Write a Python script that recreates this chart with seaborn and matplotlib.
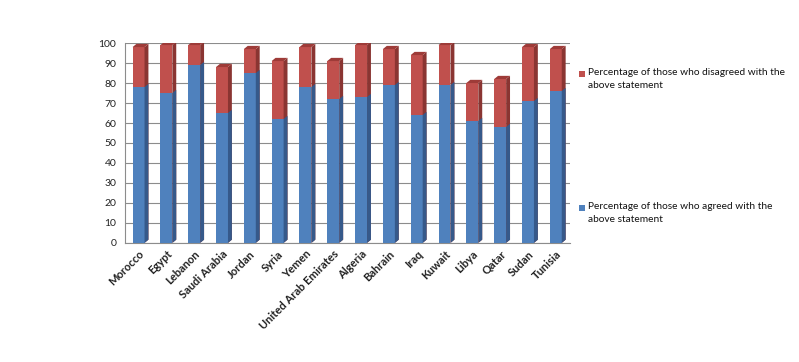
import numpy as np
import pandas as pd
import matplotlib
matplotlib.use("Agg")
import matplotlib.pyplot as plt
from matplotlib.patches import Polygon, Rectangle
import seaborn as sns

# values
countries = ["Morocco", "Egypt", "Lebanon", "Saudi Arabia", "Jordan", "Syria", "Yemen",
             "United Arab Emirates", "Algeria", "Bahrain", "Iraq", "Kuwait", "Libya",
             "Qatar", "Sudan", "Tunisia"]
agreed = [78, 75, 89, 65, 85, 62, 78, 72, 73, 79, 64, 79, 61, 58, 71, 76]
disagreed = [20, 24, 10, 23, 12, 29, 20, 19, 26, 18, 30, 20, 19, 24, 27, 21]

lbl_dis = "Percentage of those who disagreed with the\nabove statement"
lbl_agr = "Percentage of those who agreed with the\nabove statement"

df = pd.DataFrame({"country": countries, "agreed": agreed, "disagreed": disagreed})
df["total"] = df["agreed"] + df["disagreed"]

sns.set_style("white")
plt.rcParams["font.family"] = ["Lato", "DejaVu Sans"]

blue, blue_side = "#4F81BD", "#36598A"
red, red_side = "#C0504D", "#8A3532"

fig = plt.figure(figsize=(7.99, 3.62), dpi=100)
ax = fig.add_axes([0.156, 0.329, 0.557, 0.552])

# stacked bars: total in red, agreed in blue over it
sns.barplot(data=df, x="country", y="total", color=red, width=0.43,
            saturation=1, linewidth=0, ax=ax, zorder=3)
red_bars = list(ax.patches)
sns.barplot(data=df, x="country", y="agreed", color=blue, width=0.43,
            saturation=1, linewidth=0, ax=ax, zorder=4)
blue_bars = [p for p in ax.patches if p not in red_bars]

# fake 3d side and top faces, built from the bar geometry
dx, dy = 0.14, 1.6
for bars, side, z in [(red_bars, red_side, 3), (blue_bars, blue_side, 4)]:
    for p in bars:
        x0, w, h = p.get_x(), p.get_width(), p.get_height()
        ax.add_patch(Polygon([(x0 + w, 0), (x0 + w + dx, dy), (x0 + w + dx, h + dy), (x0 + w, h)],
                             closed=True, facecolor=side, edgecolor="none", zorder=z))
        if bars is red_bars:
            ax.add_patch(Polygon([(x0, h), (x0 + dx, h + dy), (x0 + w + dx, h + dy), (x0 + w, h)],
                                 closed=True, facecolor="#9E3B38", edgecolor="none", zorder=z))

ax.set_ylim(0, 100)
ax.set_xlim(-0.5, len(countries) - 0.5)
ax.set_yticks(range(0, 101, 10))
ax.yaxis.grid(True, color="#8C8C8C", linewidth=0.8, zorder=0)
ax.set_axisbelow(True)
ax.set_xlabel("")
ax.set_ylabel("")

ax.set_xticks(range(len(countries)))
ax.set_xticklabels(countries, rotation=45, ha="right", rotation_mode="anchor",
                   fontsize=8, fontweight="bold", color="#222222")
ax.set_xticks(np.arange(-0.5, len(countries), 1), minor=True)
ax.tick_params(axis="x", which="major", length=0, pad=4)
ax.tick_params(axis="x", which="minor", length=4, color="#8C8C8C", direction="out")
ax.tick_params(axis="y", length=4, color="#8C8C8C", direction="out", labelsize=7.5,
               labelcolor="#222222", pad=2)

for s in ["top", "right"]:
    ax.spines[s].set_visible(False)
for s in ["left", "bottom"]:
    ax.spines[s].set_color("#8C8C8C")
    ax.spines[s].set_linewidth(0.8)

# legend, drawn by hand so the key sits beside the first text line
W, H = 799, 362
for label, col, ytop in [(lbl_dis, red, 68), (lbl_agr, blue, 202)]:
    fig.patches.append(Rectangle((579 / W, 1 - (ytop + 9) / H), 6 / W, 6 / H,
                                 transform=fig.transFigure, facecolor=col,
                                 edgecolor="none"))
    fig.text(588 / W, 1 - ytop / H, label, fontsize=7.3, va="top", ha="left",
             linespacing=1.6, color="#111111")

fig.savefig("out.png", dpi=100)
